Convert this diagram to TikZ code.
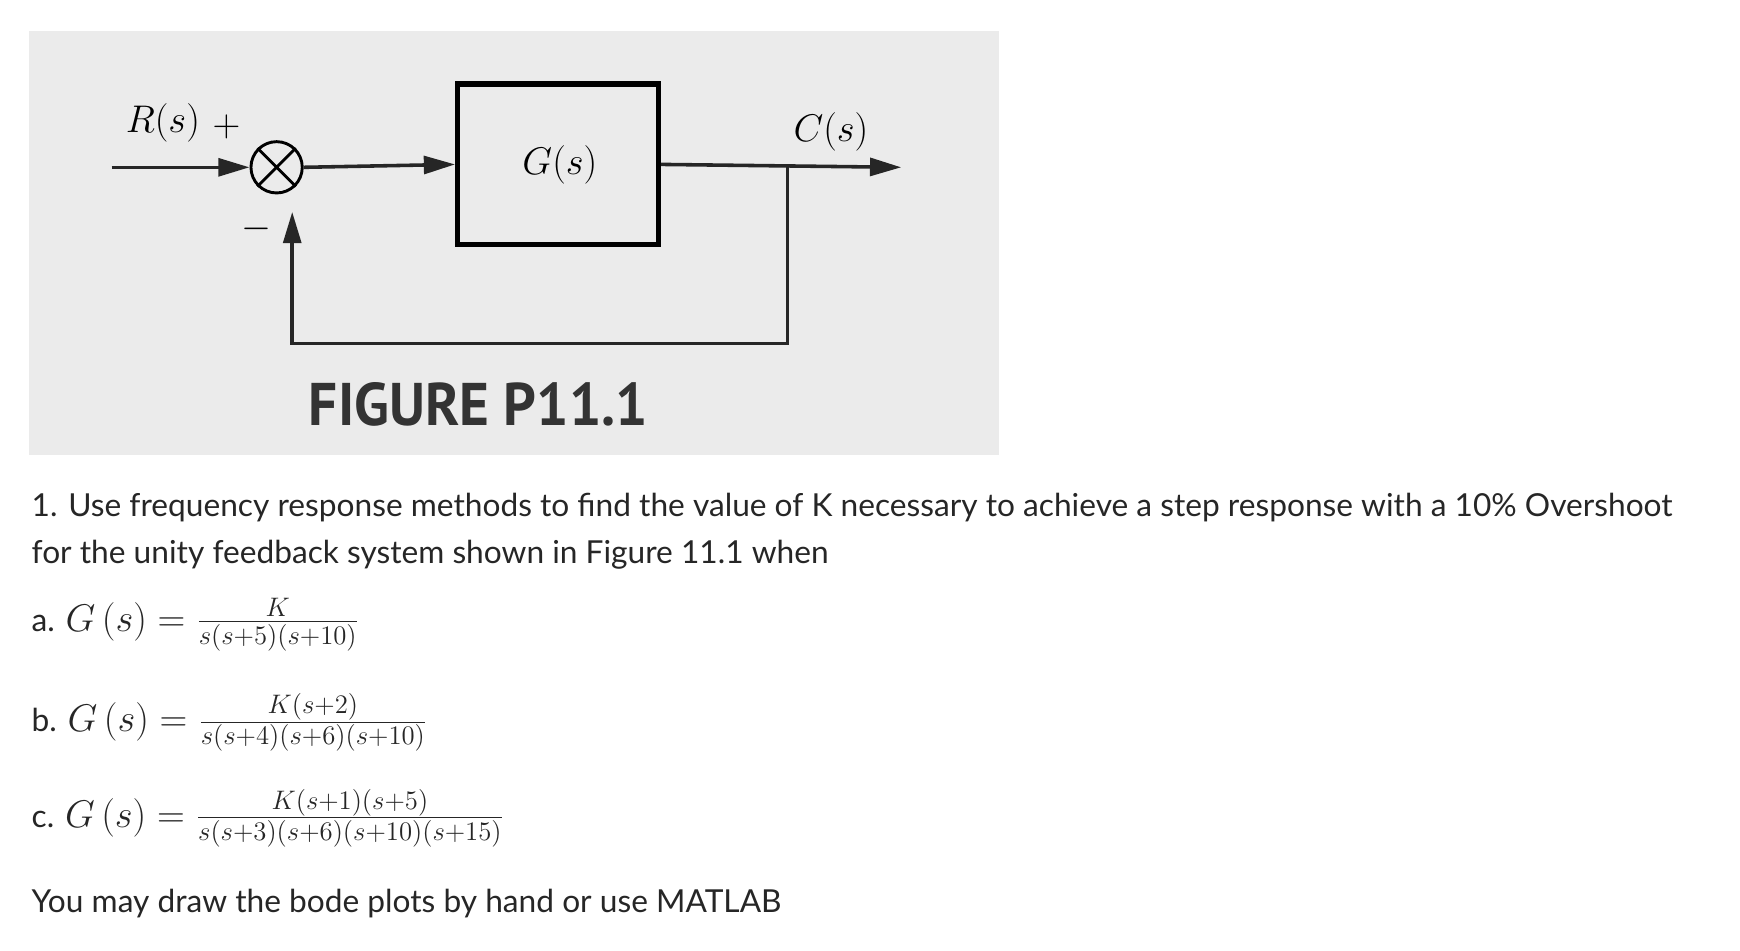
\documentclass[tikz,border=0pt]{standalone}
\usepackage{fontspec}
\setmainfont{Lato}
\newfontfamily\figfont{PT Sans}
\usetikzlibrary{arrows.meta}
\newcommand\mthsz{\fontsize{17}{20}\selectfont}
\begin{document}
\begin{tikzpicture}[x=0.5pt,y=-0.5pt,
  line/.style={line width=1.6pt,draw=black!85},
  arr/.style={line,-{Triangle[length=14pt,width=8pt]}},
  lbl/.style={font=\fontsize{18}{20}\selectfont,inner sep=0pt},
  body/.style={anchor=base west,inner sep=0pt,font=\fontsize{14.2}{17}\selectfont,text=black!85}]
\useasboundingbox (0,0) rectangle (1560,852);
\fill[black!8] (26,28) rectangle (896,408);
\node[draw,line width=1.3pt,circle,minimum size=23pt,inner sep=0pt] (sum) at (248,150) {};
\draw[line width=1.3pt] (sum.north west)--(sum.south east) (sum.north east)--(sum.south west);
\node[draw,line width=2.4pt,minimum width=90pt,minimum height=72pt,anchor=north west] (g) at (408,73) {};
\node[lbl] (gl) at (502,148) {$G(s)$};
\coordinate (in) at (100,150);
\coordinate (out) at (808,150);
\coordinate (br) at (706,150);
\coordinate (c1) at (706,308);
\coordinate (c2) at (262,308);
\coordinate (c3) at (262,190);
\draw[arr] (in) -- (sum.west);
\draw[arr] (sum.east) -- (g.west);
\draw[arr] (g.east) -- (out);
\draw[arr] (br) -- (c1) -- (c2) -- (c3);
\node[lbl] (r) at (146,110) {$R(s)$};
\node[lbl] (p) at (203,114) {$+$};
\node[lbl] (m) at (230,205) {$-$};
\node[lbl] (c) at (745,118) {$C(s)$};
\node[inner sep=0pt,font=\figfont\bfseries\fontsize{27}{29}\selectfont,text=black!80,xscale=0.95] (fig) at (429,363) {FIGURE P11.1};
\node[body] (t1) at (28,463) {1. Use frequency response methods to find the value of K necessary to achieve a step response with a 10\% Overshoot};
\node[body] (t2) at (28,505) {for the unity feedback system shown in Figure 11.1 when};
\node[body,anchor=west] (a) at (28,560) {a. {\mthsz$G\left(s\right)=\frac{K}{s(s+5)(s+10)}$}};
\node[body,anchor=west] (b) at (28,648) {b. {\mthsz$G\left(s\right)=\frac{K(s+2)}{s(s+4)(s+6)(s+10)}$}};
\node[body,anchor=west] (cc) at (28,734) {c. {\mthsz$G\left(s\right)=\frac{K(s+1)(s+5)}{s(s+3)(s+6)(s+10)(s+15)}$}};
\node[body] (t3) at (28,818) {You may draw the bode plots by hand or use MATLAB};
\end{tikzpicture}
\end{document}
